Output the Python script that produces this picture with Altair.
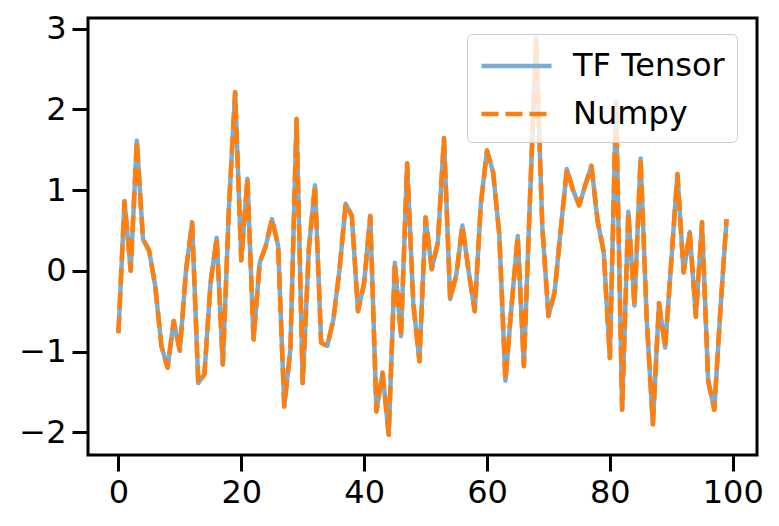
import altair as alt
import pandas as pd

# index of each sample
steps = list(range(100))

# values (both series are identical)
tf_values = [
    -0.77, 0.86, 0.00, 1.61, 0.39, 0.25, -0.19, -0.93, -1.20, -0.62,
    -0.99, 0.00, 0.60, -1.39, -1.28, -0.15, 0.41, -1.16, 0.80, 2.21,
    0.13, 1.14, -0.85, 0.10, 0.31, 0.64, 0.31, -1.68, -0.97, 1.88,
    -1.39, 0.27, 1.06, -0.89, -0.93, -0.60, 0.02, 0.83, 0.68, -0.50,
    -0.15, 0.68, -1.74, -1.26, -2.03, 0.10, -0.81, 1.33, -0.40, -1.12,
    0.66, 0.02, 0.35, 1.64, -0.35, -0.05, 0.56, 0.00, -0.50, 0.83,
    1.49, 1.22, 0.45, -1.36, -0.43, 0.43, -1.18, 0.90, 2.88, 0.55,
    -0.56, -0.27, 0.51, 1.26, 1.00, 0.81, 1.06, 1.30, 0.62, 0.23,
    -1.08, 2.09, -1.72, 0.73, -0.43, 1.39, -0.60, -1.90, -0.40, -0.95,
    0.12, 1.20, -0.02, 0.48, -0.57, 0.60, -1.36, -1.72, -0.47, 0.64,
]
np_values = list(tf_values)

series_names = ["TF Tensor", "Numpy"]
series_colors = ["#79add2", "#ff7f0e"]
series_dashes = [[1, 0], [17, 7]]
x_ticks = [0, 20, 40, 60, 80, 100]
y_ticks = [-2, -1, 0, 1, 2, 3]

df = pd.concat([
    pd.DataFrame({"x": steps, "y": tf_values, "series": series_names[0]}),
    pd.DataFrame({"x": steps, "y": np_values, "series": series_names[1]}),
])

x_enc = alt.X("x:Q", scale=alt.Scale(domain=[-4.95, 103.95], nice=False, zero=False),
              axis=alt.Axis(values=x_ticks, title=None))
y_enc = alt.Y("y:Q", scale=alt.Scale(domain=[-2.28, 3.13], nice=False, zero=False),
              axis=alt.Axis(values=y_ticks, title=None))
color_enc = alt.Color("series:N", scale=alt.Scale(domain=series_names, range=series_colors),
                      legend=alt.Legend(title=None, orient="none", legendX=379, legendY=16,
                                        symbolType="M-1,0H3", symbolSize=1225,
                                        symbolStrokeWidth=4.5, labelFontSize=32,
                                        labelFont="DejaVu Sans", labelColor="black",
                                        labelExpr="datum.label + ' '",
                                        labelOffset=54, rowPadding=12, padding=12,
                                        fillColor="rgba(255,255,255,0.8)",
                                        strokeColor="#cccccc", cornerRadius=5))
dash_enc = alt.StrokeDash("series:N", scale=alt.Scale(domain=series_names, range=series_dashes),
                          legend=alt.Legend(title=None, orient="none", legendX=379, legendY=16))

base = alt.Chart(df)
tf_line = base.transform_filter(alt.datum.series == series_names[0]).mark_line(
    strokeWidth=4.5, strokeJoin="round", strokeCap="butt"
).encode(x=x_enc, y=y_enc, color=color_enc, strokeDash=dash_enc)
np_line = base.transform_filter(alt.datum.series == series_names[1]).mark_line(
    strokeWidth=4.5, strokeJoin="round", strokeCap="butt"
).encode(x=x_enc, y=y_enc, color=color_enc, strokeDash=dash_enc)

chart = alt.layer(tf_line, np_line).properties(
    width=669, height=437,
    autosize=alt.AutoSizeParams(type="none"),
    padding={"left": 80, "top": 10, "right": 14, "bottom": 58},
).configure_view(
    stroke="black", strokeWidth=3
).configure_axis(
    grid=False, domain=False, labelFontSize=32, labelFont="DejaVu Sans",
    labelColor="black", tickColor="black", tickWidth=3, tickSize=16,
    labelPadding=6,
)

chart.save("out.html", embed_options={"renderer": "svg", "actions": False})
